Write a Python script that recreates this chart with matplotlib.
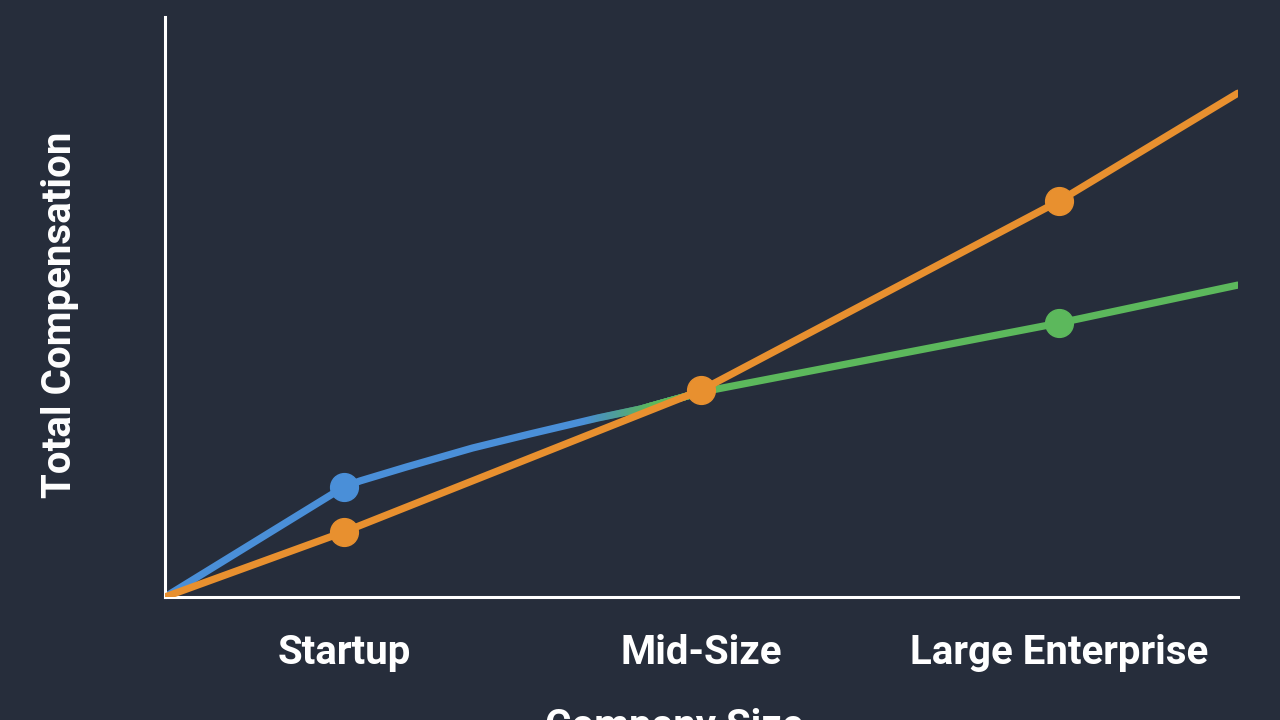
import matplotlib
matplotlib.use("Agg")
import matplotlib.pyplot as plt
from matplotlib.patches import Rectangle

plt.rcParams['font.family'] = ['Roboto', 'DejaVu Sans']

# categories on the x axis (position on a 0..6 scale)
categories = ["Startup", "Mid-Size", "Large Enterprise"]
cat_pos = [1, 3, 5]

# orange series
orange_x = [0, 1, 3, 5, 6]
orange_y = [0, 32.5, 103.5, 198, 252]

# blue series (curved run from Startup up to Mid-Size)
blue_x = [0, 1, 1.09, 1.35, 1.72, 2.04, 2.42, 2.66, 2.88, 3]
blue_y = [0, 55, 58, 65, 74.5, 81.5, 89.5, 94, 99.5, 102.5]

# green series (continues from Mid-Size)
green_x = [3, 5, 6]
green_y = [102.5, 137, 156]

bg = '#262d3b'
c_blue = '#4a8fd8'
c_orange = '#e8902f'
c_green = '#5cb85c'

fig = plt.figure(figsize=(12.8, 7.2), dpi=100, facecolor=bg)
ax = fig.add_axes([0.129, 0.171, 0.838, 0.805])
ax.set_facecolor(bg)

lw = 5.2
ms = 20

# blue line with marker at Startup
ax.plot(blue_x, blue_y, color=c_blue, lw=lw, solid_capstyle='round',
        solid_joinstyle='round', zorder=2)
ax.plot(blue_x[1], blue_y[1], 'o', color=c_blue, ms=ms, zorder=3)

# blue -> green fade on the last stretch before Mid-Size
fade_start, fade_end = 2.35, 2.72
n = 24
for i in range(n):
    left = fade_start + (fade_end - fade_start) * i / n
    ln, = ax.plot(blue_x[5:], blue_y[5:], color=c_green, lw=lw,
                  alpha=1.0 / (n - i), solid_capstyle='butt',
                  solid_joinstyle='round', zorder=2)
    clip = Rectangle((left, -10), 10, 400, transform=ax.transData)
    ln.set_clip_path(clip)

# green line
ax.plot(green_x, green_y, color=c_green, lw=lw, solid_capstyle='round', zorder=2)
ax.plot(green_x[1], green_y[1], 'o', color=c_green, ms=ms, zorder=3)

# orange line on top
ax.plot(orange_x, orange_y, color=c_orange, lw=lw, solid_capstyle='round', zorder=4)
ax.plot(orange_x[1:4], orange_y[1:4], 'o', color=c_orange, ms=ms, zorder=5, ls='none')

ax.set_xlim(0, 6)
ax.set_ylim(0, 290)

for side in ['top', 'right']:
    ax.spines[side].set_visible(False)
for side in ['left', 'bottom']:
    ax.spines[side].set_color('white')
    ax.spines[side].set_linewidth(2.2)

ax.set_xticks(cat_pos)
ax.set_xticklabels(categories, fontsize=29, fontweight='bold', color='white')
ax.tick_params(axis='x', length=0, pad=27)
ax.set_yticks([])

ax.set_ylabel("Total Compensation", fontsize=29, fontweight='bold', color='white')
ax.yaxis.set_label_coords(-0.08, 0.486)

fig.text(0.527, 0.017, "Company Size", fontsize=29, fontweight='bold',
         color='white', ha='center', va='top')

fig.savefig("out.png", dpi=100, facecolor=bg)
